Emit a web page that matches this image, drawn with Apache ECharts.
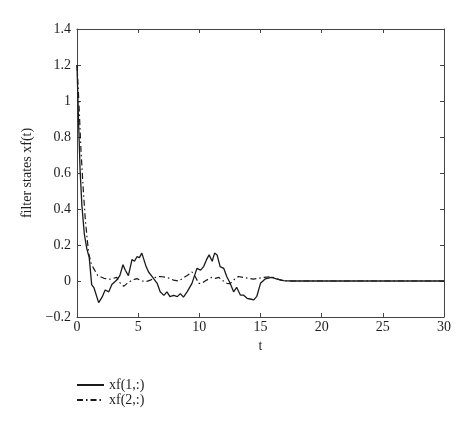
<!DOCTYPE html>
<html>
<head>
<meta charset="utf-8">
<script src="https://cdn.jsdelivr.net/npm/echarts@6/dist/echarts.min.js"></script>
<style>
  html,body{margin:0;padding:0;background:#fff;}
  #chart{width:474px;height:430px;}
</style>
</head>
<body>
<div id="chart"></div>
<script>
// values
const t1=[0,0.1,0.25,0.4,0.6,0.8,1.0,1.2,1.4,1.77,2.05,2.3,2.6,2.85,3.25,3.5,3.76,3.95,4.2,4.5,4.7,4.9,5.1,5.3,5.45,5.65,5.85,6.25,6.55,6.8,7.1,7.35,7.6,7.9,8.2,8.45,8.7,9.0,9.4,9.8,10.1,10.35,10.6,10.8,11.05,11.25,11.45,11.7,12.0,12.25,12.5,12.8,13.05,13.35,13.6,13.9,14.15,14.45,14.7,15.0,15.4,15.9,16.3,16.9,17.5,30];
const xf1=[1.2,0.95,0.62,0.42,0.26,0.18,0.13,-0.02,-0.04,-0.12,-0.09,-0.05,-0.06,-0.02,0.005,0.03,0.09,0.06,0.03,0.12,0.11,0.135,0.13,0.155,0.15,0.08,0.05,0.015,-0.013,-0.06,-0.08,-0.06,-0.087,-0.08,-0.087,-0.07,-0.09,-0.06,-0.013,0.07,0.06,0.08,0.12,0.145,0.11,0.155,0.145,0.08,0.07,0.024,-0.01,-0.06,-0.035,-0.078,-0.078,-0.096,-0.1,-0.105,-0.085,-0.013,0.012,0.02,0.012,0.002,0,0];
const t2=[0,0.15,0.33,0.5,0.68,0.95,1.15,1.36,1.7,2.2,2.7,3.25,3.55,3.82,4.1,4.5,4.9,5.3,5.7,6.0,6.4,6.8,7.35,7.9,8.3,8.6,9.0,9.4,9.7,9.95,10.2,10.6,11.0,11.3,11.6,11.85,12.25,12.5,12.8,13.2,13.6,14.0,14.4,14.85,15.25,15.9,16.4,16.9,30];
const xf2=[1.2,1.0,0.72,0.52,0.34,0.155,0.1,0.07,0.03,0.015,0.01,0.02,-0.013,-0.03,-0.013,0.005,0.013,0,-0.002,0.005,0.02,0.025,0.02,0.005,0,0.013,0.03,0.05,0.02,-0.013,-0.013,0.005,0.02,0.015,0.02,0.005,-0.013,-0.015,0.005,0.025,0.02,0.015,0.01,0.015,0.02,0.024,0.01,0,0];
const names=['xf(1,:)','xf(2,:)'];

const font='Liberation Serif';
const ink='#1e1e1e';
const chart=echarts.init(document.getElementById('chart'));

const axisBase={
  axisLine:{show:true,onZero:false,lineStyle:{color:'#444',width:1}},
  axisTick:{show:true,inside:true,length:4,lineStyle:{color:'#444'}},
  splitLine:{show:false}
};

chart.setOption({
  animation:false,
  backgroundColor:'#fff',
  textStyle:{fontFamily:font,color:ink},
  grid:{left:77,right:30,top:29,bottom:113,containLabel:false},
  legend:{
    orient:'vertical',left:76,top:378,padding:0,itemWidth:27,itemHeight:8,itemGap:1,
    textStyle:{fontFamily:font,fontSize:14,color:ink,lineHeight:14},
    itemStyle:{opacity:0},
    data:names
  },
  xAxis:[
    Object.assign({
      type:'value',min:0,max:30,interval:5,position:'bottom',
      name:'t',nameLocation:'middle',nameGap:21,
      nameTextStyle:{fontFamily:font,fontSize:14,color:ink},
      axisLabel:{fontFamily:font,fontSize:14,color:ink,margin:3}
    },axisBase),
    Object.assign({
      type:'value',min:0,max:30,interval:5,position:'top',
      axisLabel:{show:false}
    },axisBase)
  ],
  yAxis:[
    Object.assign({
      type:'value',min:-0.2,max:1.4,interval:0.2,position:'left',
      name:'filter states xf(t)',nameLocation:'middle',nameGap:43,
      nameTextStyle:{fontFamily:font,fontSize:14,color:ink},
      axisLabel:{fontFamily:font,fontSize:14,color:ink,margin:6,
        formatter:v=>String(Math.round(v*10)/10).replace('-','\u2212')}
    },axisBase),
    Object.assign({
      type:'value',min:-0.2,max:1.4,interval:0.2,position:'right',
      axisLabel:{show:false}
    },axisBase)
  ],
  series:[
    {
      name:names[0],type:'line',symbol:'none',
      data:t1.map((t,i)=>[t,xf1[i]]),
      lineStyle:{color:'#1a1a1a',width:1.3,type:'solid'},
      itemStyle:{color:'#1a1a1a'}
    },
    {
      name:names[1],type:'line',symbol:'none',
      data:t2.map((t,i)=>[t,xf2[i]]),
      lineStyle:{color:'#1a1a1a',width:1.2,type:[6,3,1.5,3]},
      itemStyle:{color:'#1a1a1a'}
    }
  ]
});
</script>
</body>
</html>
